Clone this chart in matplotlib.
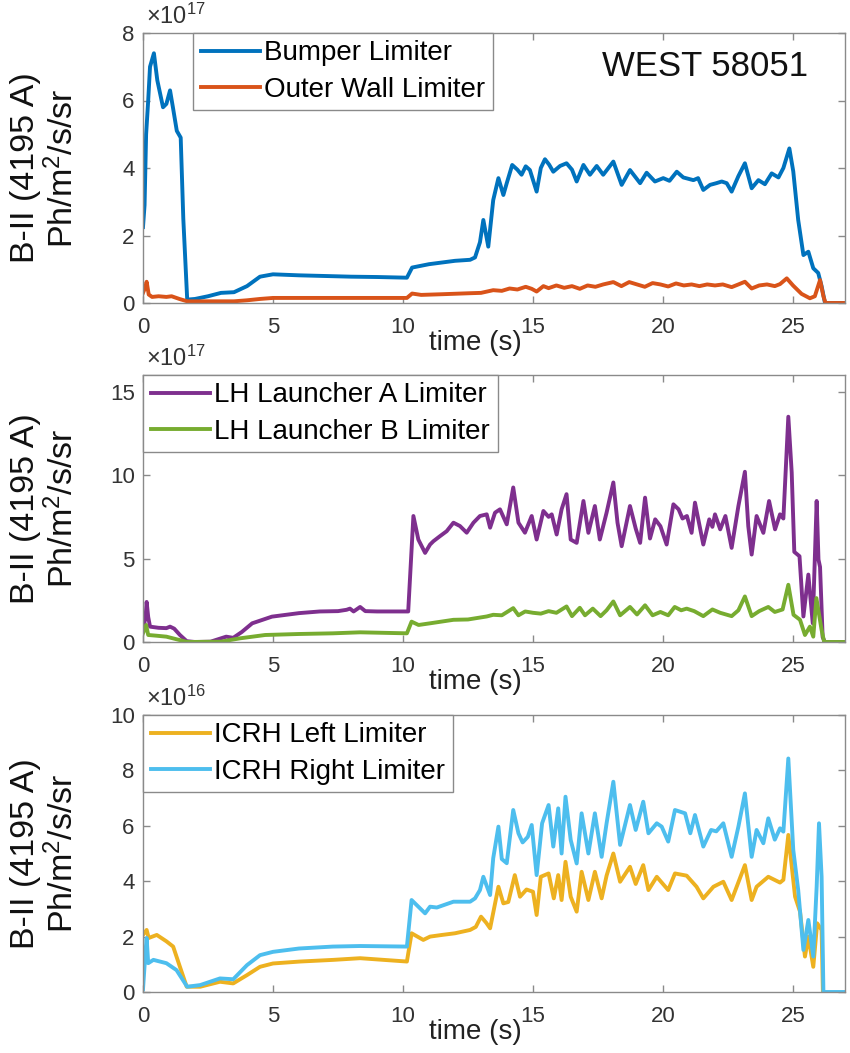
import matplotlib
matplotlib.use('Agg')
import matplotlib.pyplot as plt
import numpy as np

plt.rcParams['font.family'] = ['Liberation Sans', 'DejaVu Sans']
plt.rcParams['mathtext.fontset'] = 'custom'
plt.rcParams['mathtext.rm'] = 'Liberation Sans'
plt.rcParams['mathtext.it'] = 'Liberation Sans:italic'
plt.rcParams['mathtext.bf'] = 'Liberation Sans:bold'

# ---------------- data (panel 1, units of 1e17) ----------------
t_bumper = [0.0, 0.06, 0.12, 0.2, 0.27, 0.42, 0.55, 0.77, 0.9, 1.04, 1.15, 1.3, 1.45, 1.55, 1.7, 2.0, 2.5, 3.0, 3.5, 4.0,
            4.5, 5.0, 6.0, 7.0, 8.0, 9.0, 10.15, 10.35, 11.0, 12.0, 12.58, 12.77, 12.96, 13.09, 13.28, 13.47, 13.67, 13.86,
            13.99, 14.2, 14.4, 14.56, 14.72, 14.88, 15.14, 15.3, 15.46, 15.62, 15.78, 16.04, 16.29, 16.5, 16.68, 16.94,
            17.19, 17.45, 17.7, 18.09, 18.41, 18.73, 19.12, 19.37, 19.69, 20.01, 20.25, 20.53, 20.78, 21.17, 21.35, 21.55,
            21.81, 22.05, 22.26, 22.45, 22.64, 22.9, 23.15, 23.41, 23.67, 23.92, 24.18, 24.44, 24.63, 24.86, 25.01, 25.2,
            25.4, 25.59, 25.78, 25.97, 26.1, 26.23, 27.0]
v_bumper = [2.25, 2.9, 5.0, 6.0, 7.0, 7.4, 6.6, 5.8, 5.9, 6.3, 5.8, 5.1, 4.9, 2.5, 0.1, 0.12, 0.2, 0.3, 0.32, 0.5,
            0.78, 0.85, 0.82, 0.8, 0.78, 0.77, 0.75, 1.05, 1.15, 1.25, 1.28, 1.35, 1.8, 2.46, 1.67, 3.05, 3.7, 3.2,
            3.55, 4.09, 3.95, 3.8, 4.05, 3.94, 3.3, 4.0, 4.26, 4.1, 3.89, 4.06, 4.14, 3.95, 3.6, 4.09,
            3.8, 4.06, 3.8, 4.19, 3.5, 3.94, 3.55, 3.86, 3.6, 3.7, 3.62, 3.89, 3.72, 3.64, 3.7, 3.35,
            3.5, 3.55, 3.6, 3.55, 3.3, 3.76, 4.14, 3.4, 3.64, 3.52, 3.84, 3.72, 4.0, 4.58, 3.9, 2.46,
            1.42, 1.52, 1.03, 0.89, 0.5, 0.0, 0.0]

t_outer = [0, 0.08, 0.14, 0.22, 0.35, 0.6, 0.9, 1.1, 1.4, 1.7, 2.5, 3.5, 4.0, 4.5, 5.0, 7.0, 10.15, 10.35, 10.7, 11.5,
           12.58, 13.0, 13.47, 13.8, 14.1, 14.4, 14.72, 14.95, 15.14, 15.4, 15.6, 15.9, 16.2, 16.5, 16.8, 17.1, 17.4,
           17.7, 18.09, 18.4, 18.7, 19.0, 19.3, 19.6, 19.9, 20.2, 20.5, 20.8, 21.1, 21.4, 21.7, 22.0, 22.3, 22.64, 22.9,
           23.15, 23.41, 23.7, 24.0, 24.3, 24.5, 24.76, 25.0, 25.33, 25.65, 25.84, 26.04, 26.17, 26.25, 27.0]
v_outer = [0.3, 0.45, 0.63, 0.25, 0.18, 0.2, 0.18, 0.2, 0.12, 0.05, 0.05, 0.05, 0.08, 0.12, 0.15, 0.15, 0.15, 0.28, 0.24, 0.26,
           0.29, 0.3, 0.38, 0.36, 0.43, 0.4, 0.48, 0.42, 0.34, 0.5, 0.44, 0.52, 0.45, 0.5, 0.42, 0.52, 0.48,
           0.55, 0.62, 0.5, 0.62, 0.55, 0.48, 0.59, 0.55, 0.49, 0.58, 0.52, 0.55, 0.5, 0.55, 0.52, 0.55, 0.47, 0.55,
           0.63, 0.43, 0.52, 0.55, 0.5, 0.56, 0.73, 0.52, 0.27, 0.14, 0.2, 0.68, 0.2, 0.0, 0.0]

# ---------------- data (panel 2, units of 1e17) ----------------
t_lha = [0, 0.1, 0.14, 0.2, 0.27, 0.6, 0.9, 1.04, 1.2, 1.42, 1.68, 2.0, 2.6, 3.2, 3.47, 3.8, 4.2, 4.96, 6.0, 6.8,
         7.5, 7.83, 7.96, 8.1, 8.35, 8.55, 9.0, 9.88, 10.2, 10.4, 10.59, 10.85, 11.04, 11.17, 11.42, 11.68, 11.94,
         12.19, 12.45, 12.71, 12.96, 13.22, 13.35, 13.54, 13.73, 13.99, 14.24, 14.44, 14.69, 14.95, 15.14, 15.4, 15.6,
         15.72, 15.91, 16.1, 16.29, 16.45, 16.68, 16.94, 17.13, 17.38, 17.57, 17.83, 18.09, 18.25, 18.41, 18.73,
         18.95, 19.12, 19.31, 19.5, 19.7, 19.9, 20.14, 20.4, 20.6, 20.75, 20.92, 21.1, 21.23, 21.55, 21.78, 21.9,
         22.0, 22.2, 22.4, 22.64, 22.9, 23.15, 23.28, 23.41, 23.6, 23.86, 24.08, 24.31, 24.5, 24.63, 24.82, 24.95,
         25.05, 25.25, 25.4, 25.59, 25.76, 25.91, 25.98, 26.04, 26.14, 26.22, 27.0]
v_lha = [0.72, 1.5, 2.4, 1.5, 0.92, 0.85, 0.83, 0.92, 0.8, 0.42, 0.05, 0.0, 0.02, 0.32, 0.25, 0.6, 1.12, 1.52, 1.73, 1.83,
         1.85, 1.93, 2.0, 1.83, 2.1, 1.85, 1.83, 1.83, 1.83, 7.55, 6.14, 5.34, 5.84, 6.04, 6.34, 6.64, 7.15,
         6.95, 6.55, 7.15, 7.55, 7.65, 6.85, 7.75, 7.95, 7.05, 9.26, 7.15, 6.55, 7.55, 6.14, 7.85, 7.5,
         7.65, 6.44, 7.95, 8.86, 6.14, 5.94, 8.45, 6.54, 8.15, 6.14, 7.75, 9.56, 7.15, 5.74, 8.15,
         6.8, 5.94, 8.65, 6.2, 7.35, 6.94, 5.84, 8.25, 7.95, 7.4, 7.55, 6.54, 8.35, 5.84, 7.35, 6.9,
         7.65, 6.75, 7.55, 5.64, 8.15, 10.2, 6.94, 5.24, 7.55, 6.54, 8.45, 6.75, 7.65, 7.4, 13.5, 10.16,
         5.4, 5.14, 1.53, 4.04, 1.12, 8.45, 4.94, 4.5, 0.3, 0.0, 0.0]

t_lhb = [0, 0.12, 0.2, 0.5, 0.9, 1.4, 1.7, 3.0, 3.73, 4.7, 6.0, 7.3, 8.35, 10.15, 10.33, 10.6, 11.04, 11.94, 12.5,
         13.22, 13.47, 13.8, 14.24, 14.44, 14.7, 15.0, 15.3, 15.6, 15.9, 16.29, 16.5, 16.8, 17.0, 17.3, 17.6, 17.83,
         18.09, 18.35, 18.73, 19.0, 19.31, 19.6, 19.9, 20.2, 20.45, 20.7, 20.91, 21.2, 21.55, 21.9, 22.2, 22.64, 22.9,
         23.15, 23.41, 23.7, 24.05, 24.3, 24.6, 24.82, 25.02, 25.27, 25.46, 25.65, 25.78, 25.9, 26.1, 26.2, 27.0]
v_lhb = [0.52, 1.02, 0.42, 0.38, 0.32, 0.12, 0.0, 0.02, 0.22, 0.42, 0.48, 0.52, 0.58, 0.52, 1.22, 1.02, 1.12, 1.33, 1.35,
         1.53, 1.63, 1.6, 2.03, 1.6, 1.83, 1.75, 1.7, 1.85, 1.75, 2.13, 1.55, 2.05, 1.6, 2.0, 1.55, 1.9,
         2.43, 1.6, 2.1, 1.65, 2.2, 1.6, 1.8, 1.6, 2.1, 1.9, 2.0, 1.85, 1.55, 1.95, 1.75, 1.55, 1.9,
         2.73, 1.55, 1.85, 2.1, 1.8, 1.95, 3.43, 1.63, 1.33, 0.42, 0.92, 0.32, 2.63, 0.72, 0.0, 0.0]

# ---------------- data (panel 3, units of 1e16) ----------------
t_icl = [0, 0.14, 0.22, 0.53, 0.9, 1.16, 1.42, 1.68, 2.2, 2.96, 3.47, 4.0, 4.5, 5.0, 6.04, 7.32, 8.35, 10.15, 10.33,
         10.78, 11.04, 11.5, 12.0, 12.58, 12.8, 13.0, 13.2, 13.35, 13.67, 13.86, 14.05, 14.3, 14.5, 14.75, 15.0, 15.14,
         15.3, 15.6, 15.8, 15.97, 16.1, 16.25, 16.45, 16.68, 16.87, 17.13, 17.38, 17.64, 17.83, 18.09, 18.35, 18.73,
         18.95, 19.24, 19.44, 19.76, 20.2, 20.46, 20.91, 21.29, 21.55, 21.94, 22.32, 22.64, 23.15, 23.41, 23.6, 24.05,
         24.5, 24.63, 24.82, 25.08, 25.27, 25.46, 25.59, 25.78, 25.93, 26.1, 26.15]
v_icl = [2.06, 2.24, 1.95, 2.06, 1.83, 1.64, 0.91, 0.19, 0.19, 0.37, 0.31, 0.61, 0.91, 1.03, 1.1, 1.16, 1.22, 1.1, 2.12,
         1.88, 2.0, 2.06, 2.12, 2.24, 2.35, 2.72, 2.5, 2.3, 3.8, 3.2, 3.25, 4.22, 3.44, 3.7, 3.62, 2.78,
         4.16, 4.28, 3.38, 4.22, 3.32, 4.7, 3.44, 2.9, 4.34, 3.32, 4.34, 3.38, 4.2, 5.0, 3.98, 4.52,
         3.9, 4.58, 3.68, 4.16, 3.68, 4.28, 4.2, 3.8, 3.38, 3.8, 3.98, 3.32, 4.58, 3.32, 3.8, 4.16,
         3.95, 4.05, 5.67, 3.44, 2.9, 1.28, 2.0, 0.91, 2.48, 2.24, 0.0]

t_icr = [0, 0.1, 0.14, 0.2, 0.4, 0.9, 1.29, 1.7, 2.2, 2.96, 3.47, 4.0, 4.5, 5.0, 6.0, 7.3, 8.35, 10.15, 10.33, 10.59,
         10.85, 11.04, 11.3, 11.94, 12.58, 12.77, 12.96, 13.09, 13.35, 13.47, 13.67, 13.8, 13.99, 14.24, 14.44, 14.6,
         14.8, 14.95, 15.14, 15.35, 15.6, 15.78, 15.97, 16.1, 16.25, 16.45, 16.68, 16.87, 17.13, 17.38, 17.64, 17.83,
         18.09, 18.35, 18.73, 18.95, 19.24, 19.44, 19.76, 19.95, 20.2, 20.46, 20.85, 21.05, 21.23, 21.55, 21.85, 22.05,
         22.32, 22.64, 22.9, 23.15, 23.41, 23.6, 23.86, 24.05, 24.3, 24.5, 24.63, 24.82, 25.01, 25.2, 25.4, 25.59,
         25.78, 25.91, 26.0, 26.1, 26.17, 27.0]
v_icr = [0.1, 1.5, 1.95, 1.04, 1.16, 1.04, 0.79, 0.19, 0.25, 0.49, 0.46, 0.97, 1.33, 1.45, 1.57, 1.64, 1.66, 1.64, 3.32, 3.08,
         2.84, 3.08, 3.05, 3.26, 3.26, 3.38, 3.68, 4.16, 3.5, 4.83, 5.97, 4.8, 4.65, 6.57, 5.73, 5.4,
         5.6, 6.03, 4.22, 6.09, 6.75, 5.25, 6.63, 5.0, 7.05, 5.49, 4.64, 6.45, 5.0, 6.45, 4.88, 6.09,
         7.59, 5.31, 6.75, 5.85, 6.87, 5.73, 6.09, 5.97, 5.43, 6.57, 6.45, 5.73, 6.39, 5.25, 5.85, 5.8,
         6.09, 4.88, 5.97, 7.17, 4.88, 5.85, 5.37, 6.27, 5.5, 5.91, 5.79, 8.43, 5.13, 3.68, 1.52, 2.6,
         1.28, 3.8, 6.09, 4.16, 0.0, 0.0]

labels_p1 = ['Bumper Limiter', 'Outer Wall Limiter']
labels_p2 = ['LH Launcher A Limiter', 'LH Launcher B Limiter']
labels_p3 = ['ICRH Left Limiter', 'ICRH Right Limiter']
yticks_p1 = [0, 2, 4, 6, 8]
yticks_p2 = [0, 5, 10, 15]
yticks_p3 = [0, 2, 4, 6, 8, 10]
xticks_all = [0, 5, 10, 15, 20, 25]

C_BLUE = '#0072BD'
C_ORANGE = '#D95319'
C_YELLOW = '#EDB120'
C_PURPLE = '#7E2F8E'
C_GREEN = '#77AC30'
C_CYAN = '#4DBEEE'
AX_GRAY = '#8a8a8a'

fig = plt.figure(figsize=(8.5, 10.53), dpi=100)
W, H = 850.0, 1053.0


def make_ax(top_px, bottom_px):
    left, right = 143.0, 845.0
    return fig.add_axes([left / W, 1 - bottom_px / H, (right - left) / W, (bottom_px - top_px) / H])


panels = [
    dict(top=33, bottom=303, ylim=(0, 8), yticks=yticks_p1, exp='17',
         series=[(t_bumper, v_bumper, C_BLUE), (t_outer, v_outer, C_ORANGE)], labels=labels_p1,
         legx=193),
    dict(top=375, bottom=642, ylim=(0, 16), yticks=yticks_p2, exp='17',
         series=[(t_lha, v_lha, C_PURPLE), (t_lhb, v_lhb, C_GREEN)], labels=labels_p2,
         legx=143),
    dict(top=715, bottom=992, ylim=(0, 10), yticks=yticks_p3, exp='16',
         series=[(t_icl, v_icl, C_YELLOW), (t_icr, v_icr, C_CYAN)], labels=labels_p3,
         legx=143),
]

for i, p in enumerate(panels):
    ax = make_ax(p['top'], p['bottom'])
    for (t, v, c), lab in zip(p['series'], p['labels']):
        ax.plot(np.array(t), np.array(v), color=c, lw=2.8, label=lab, solid_joinstyle='round')
    ax.set_xlim(0, 27)
    ax.set_ylim(*p['ylim'])
    ax.set_xticks(xticks_all)
    ax.set_yticks(p['yticks'])
    for s in ax.spines.values():
        s.set_color(AX_GRAY)
        s.set_linewidth(1.0)
    ax.tick_params(direction='in', length=5, width=1.0, color=AX_GRAY, labelcolor='#333333',
                   labelsize=16, top=True, right=True)
    ax.tick_params(axis='x', pad=10)
    ax.tick_params(axis='y', pad=6)

    ax.annotate(r'$\times10^{%s}$' % p['exp'], xy=(0, 1), xycoords='axes fraction',
                xytext=(2, 3), textcoords='offset points', ha='left', va='bottom',
                fontsize=17, color='#333333')
    ax.annotate('time (s)', xy=(0.473, 0), xycoords='axes fraction',
                xytext=(0, -29), textcoords='offset points', ha='center', va='center',
                fontsize=20, color='#222222')
    ax.set_ylabel('B-II (4195 A)\nPh/m$^2$/s/sr', fontsize=24.5, linespacing=1.15, color='#111111')
    ax.yaxis.set_label_coords((80 - 143) / 702.0, 0.5)

    leg = ax.legend(loc='upper left', bbox_to_anchor=((p['legx'] - 143) / 702.0, 1.0),
                    fontsize=20, handlelength=2.15, handletextpad=0.15, borderpad=0.27,
                    labelspacing=0.37, borderaxespad=0.0, fancybox=False, framealpha=1.0,
                    edgecolor=AX_GRAY)
    leg.get_frame().set_linewidth(1.0)
    for h in leg.get_lines():
        h.set_linewidth(2.8)

    if i == 0:
        ax.text((808 - 143) / 702.0, (303 - 67) / 270.0, 'WEST 58051', transform=ax.transAxes,
                ha='right', va='center', fontsize=25, color='#111111')

fig.savefig('out.png', dpi=100, facecolor='white')
